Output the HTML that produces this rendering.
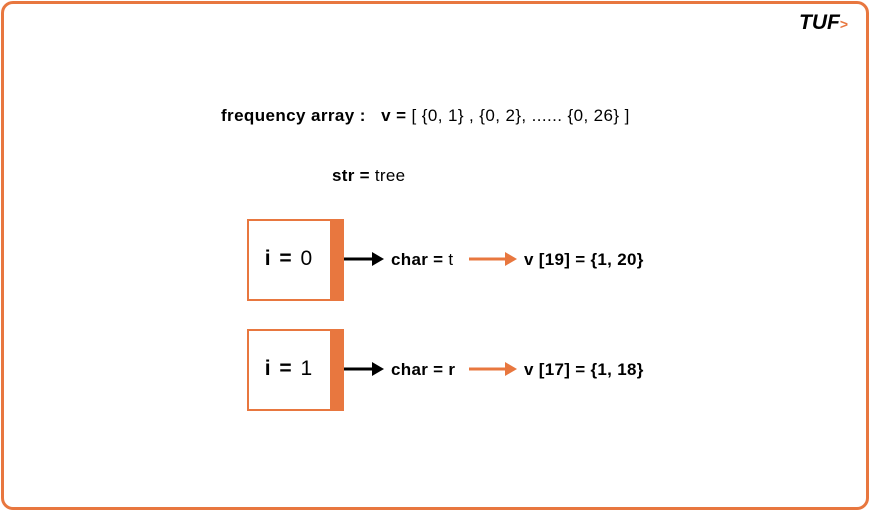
<!DOCTYPE html>
<html><head><style>
body{margin:0;width:869px;height:509px;background:#fff;font-family:"Liberation Sans",sans-serif;position:relative;overflow:hidden}
.frame{position:absolute;left:1px;top:1px;width:862px;height:503px;border:3px solid #e8773f;border-radius:12px}
.t{position:absolute;font-size:17px;color:#000;white-space:nowrap;line-height:20px;letter-spacing:0.3px}
b{font-weight:bold}
.box{position:absolute;left:247px;width:82px;height:78px;border:2px solid #e8773f;border-right:none}
.bar{position:absolute;left:330px;width:14px;height:82px;background:#e8773f}
.bl{position:absolute;left:247px;width:83px;font-size:21px;text-align:center;line-height:20px;word-spacing:3px}
</style></head><body>
<div class="frame"></div>
<div class="t" style="left:799px;top:13px;font-size:21px;font-style:italic;font-weight:bold;letter-spacing:0px">TUF<span style="color:#e8773f;font-size:14px;font-style:normal">&gt;</span></div>
<div class="t" style="left:221px;top:106px;letter-spacing:0.4px"><b>frequency array :&nbsp;&nbsp; v =</b> [ {0, 1} , {0, 2}, ...... {0, 26} ]</div>
<div class="t" style="left:332px;top:166px"><b>str =</b> tree</div>

<div class="box" style="top:219px"></div><div class="bar" style="top:219px"></div>
<div class="bl" style="top:249px"><b>i =</b> 0</div>
<div class="box" style="top:329px"></div><div class="bar" style="top:329px"></div>
<div class="bl" style="top:359px"><b>i =</b> 1</div>

<svg style="position:absolute;left:0;top:0" width="869" height="509">
<line x1="344" y1="259" x2="376" y2="259" stroke="#000" stroke-width="3"/>
<polygon points="384,259 372,252 372,266" fill="#000"/>
<line x1="469" y1="259" x2="508" y2="259" stroke="#e8773f" stroke-width="3"/>
<polygon points="517,259 505,252 505,266" fill="#e8773f"/>
<line x1="344" y1="369" x2="376" y2="369" stroke="#000" stroke-width="3"/>
<polygon points="384,369 372,362 372,376" fill="#000"/>
<line x1="469" y1="369" x2="508" y2="369" stroke="#e8773f" stroke-width="3"/>
<polygon points="517,369 505,362 505,376" fill="#e8773f"/>
</svg>

<div class="t" style="left:391px;top:250px"><b>char =</b> t</div>
<div class="t" style="left:524px;top:250px"><b>v [19] = {1, 20}</b></div>
<div class="t" style="left:391px;top:360px"><b>char = r</b></div>
<div class="t" style="left:524px;top:360px"><b>v [17] = {1, 18}</b></div>
</body></html>
